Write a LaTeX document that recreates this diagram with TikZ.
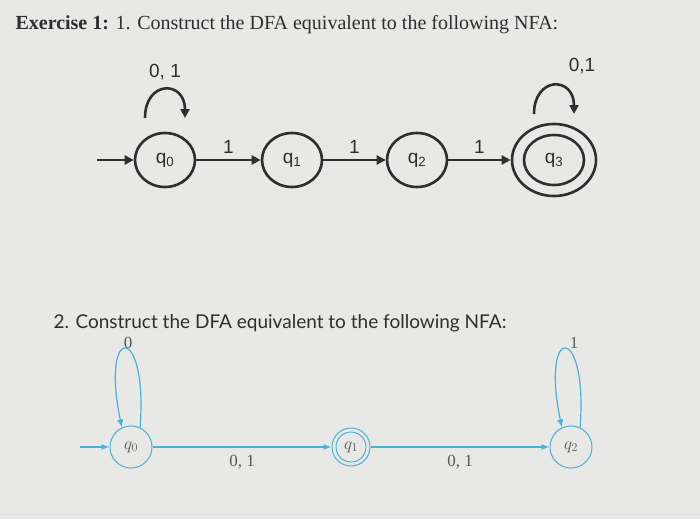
\documentclass[tikz,border=0pt]{standalone}
\usepackage{fontspec}
\setmainfont{Liberation Serif}
\newfontfamily\arialf{Liberation Sans}
\newfontfamily\latof{Lato}
\usetikzlibrary{arrows.meta,shapes.geometric}
\definecolor{bg}{HTML}{E8E8E6}
\definecolor{ink}{HTML}{2E2E2E}
\definecolor{lb}{HTML}{4DB0D6}
\begin{document}
\begin{tikzpicture}[x=1pt,y=-1pt,
  st/.style={draw=ink,line width=2.6pt,ellipse,minimum width=60pt,minimum height=54pt,inner sep=0pt,font=\arialf\fontsize{19}{20}\selectfont,text=ink},
  ta/.style={draw=ink,line width=2.6pt,-{Triangle[length=9pt,width=9pt]}},
  tl/.style={font=\arialf\fontsize{19}{20}\selectfont,text=ink},
  bs/.style={draw=lb,line width=1pt,circle,minimum size=42pt,inner sep=0pt,font=\fontsize{17}{18}\selectfont,text=ink!80},
  ba/.style={draw=lb,line width=1.2pt,-{Latex[length=8pt,width=6pt]}},
  bl/.style={font=\fontsize{17}{18}\selectfont,text=ink!80}]
\useasboundingbox[fill=bg] (0,0) rectangle (700,519);
\node[anchor=base west,font=\fontsize{20}{24}\selectfont,text=ink] (title) at (12,30) {\textbf{Exercise 1:} 1. Construct the DFA equivalent to the following NFA:};
% top NFA
\node[st] (a0) at (165,160) {q\textsubscript{0}};
\node[st] (a1) at (292,160) {q\textsubscript{1}};
\node[st] (a2) at (417,160) {q\textsubscript{2}};
\node[st,minimum width=84pt,minimum height=72pt] (a3) at (554,160) {};
\node[st,minimum width=60pt,minimum height=50pt] (a3i) at (554,160) {q\textsubscript{3}};
\coordinate (s0) at (97,160);
\draw[ta] (s0) -- (a0);
\draw[ta] (a0) -- node[tl,above=2pt]{1} (a1);
\draw[ta] (a1) -- node[tl,above=2pt]{1} (a2);
\draw[ta] (a2) -- node[tl,above=2pt]{1} (a3);
\coordinate (p0a) at (145,118); \coordinate (p0b) at (185,118);
\draw[ta] (p0a) .. controls (145,80) and (185,80) .. (p0b);
\node[tl] (l0) at (165,72) {0, 1};
\coordinate (p3a) at (534,114); \coordinate (p3b) at (574,114);
\draw[ta] (p3a) .. controls (534,76) and (574,76) .. (p3b);
\node[tl] (l3) at (582,66) {0,1};
% bottom
\node[anchor=base west,font=\latof\fontsize{19}{22}\selectfont,text=ink] (t2) at (50,328) {2. Construct the DFA equivalent to the following NFA:};
\node[bs] (b0) at (131,447) {$q_0$};
\node[bs,minimum size=38pt] (b1) at (351,447) {};
\node[draw=lb,line width=1pt,circle,minimum size=30pt,inner sep=0pt,font=\fontsize{17}{18}\selectfont,text=ink!80] (b1i) at (351,447) {$q_1$};
\node[bs] (b2) at (571,447) {$q_2$};
\coordinate (bs0) at (80,447);
\draw[ba] (bs0) -- (b0);
\draw[ba] (b0) -- node[bl,below=4pt]{0, 1} (b1);
\draw[ba] (b1) -- node[bl,below=4pt]{0, 1} (b2);
\draw[ba] (b0.65) .. controls +(8,-105) and +(-22,-105) .. (b0.115);
\draw[ba] (b2.65) .. controls +(8,-105) and +(-22,-105) .. (b2.115);
\node[bl] (bl0) at (128,343) {0};
\node[bl] (bl2) at (574,343) {1};
\end{tikzpicture}
\end{document}
